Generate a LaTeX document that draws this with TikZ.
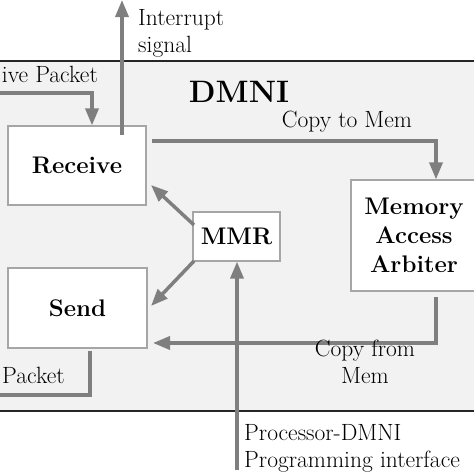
\documentclass[tikz,border=0pt]{standalone}
\usetikzlibrary{arrows.meta}
\definecolor{bgfill}{HTML}{F2F2F2}
\definecolor{arrowgray}{HTML}{7F7F7F}
\definecolor{boxline}{HTML}{A6A6A6}
\tikzset{
  blockbox/.style={draw=boxline, line width=1.2pt, fill=white, inner sep=0pt, font=\fontsize{24}{29}\selectfont\bfseries, align=center},
  flow/.style={draw=arrowgray, line width=3.5pt, -{Triangle[width=13pt,length=17pt]}},
  flowplain/.style={draw=arrowgray, line width=3.5pt},
  lbl/.style={font=\fontsize{23.5}{26.5}\selectfont, inner sep=0pt, text=black},
}
\begin{document}
\begin{tikzpicture}[x=1pt,y=-1pt]
\clip (0,0) rectangle (474,474);
% DMNI background
\fill[bgfill] (0,61) rectangle (474,411);
\draw[black!85, line width=1.3pt] (0,61) -- (474,61);
\draw[black!85, line width=1.3pt] (0,411) -- (474,411);
\node[font=\fontsize{31}{36}\selectfont\bfseries, inner sep=0pt] (dmni) at (239,92) {DMNI};

% blocks
\node[blockbox, minimum width=138pt, minimum height=79pt] (rec) at (77,165.5) {Receive};
\node[blockbox, minimum width=139pt, minimum height=80pt] (send) at (77.5,308) {Send};
\node[blockbox, minimum width=87pt, minimum height=49pt] (mmr) at (236.5,236.5) {MMR};
\node[blockbox, minimum width=126pt, minimum height=111pt, text width=126pt] (maa) at (414,235.5) {Memory\\Access\\Arbiter};

% coordinates
\coordinate (rpin) at (-10,93);
\coordinate (rpc) at (92,93);
\coordinate (intsrc) at (122,135);
\coordinate (inttop) at (122,0);
\coordinate (ctm1) at (152,141);
\coordinate (ctm2) at (436,141);
\coordinate (cfm0) at (436,297);
\coordinate (cfm1) at (436,343);
\coordinate (cfmend) at (153,343);
\coordinate (sp0) at (90,351);
\coordinate (sp1) at (90,395);
\coordinate (spout) at (-10,395);
\coordinate (procin) at (237,470);
\coordinate (mmrul) at (194,225);
\coordinate (mmrll) at (194,261);
\coordinate (rtip) at (151,185);
\coordinate (stip) at (151,306);

% connectors
\draw[flow] (rpin) -- (rpc) -- (rpc |- rec.north);
\draw[flow] (intsrc) -- (inttop);
\draw[flow] (ctm1) -- (ctm2) -- (ctm2 |- maa.north);
\draw[flow] (cfm0) -- (cfm1) -- (cfmend);
\draw[flowplain] (sp0) -- (sp1) -- (spout);
\draw[flow] (procin) -- (procin |- mmr.south);
\draw[flow] (mmrul) -- (rtip);
\draw[flow] (mmrll) -- (stip);

% labels
\node[lbl, anchor=base east] (rplbl) at (98,82) {ive Packet};
\node[lbl, anchor=base west, align=left] (intlbl) at (138,52) {Interrupt\\signal};
\node[lbl, anchor=base] (ctmlbl) at (347,127) {Copy to Mem};
\node[lbl, anchor=base, align=center] (cfmlbl) at (365,383) {Copy from\\Mem};
\node[lbl, anchor=base west] (splbl) at (2,383) {Packet};
\node[lbl, anchor=base west, align=left] (proclbl) at (244,467) {Processor-DMNI\\Programming interface};
\end{tikzpicture}
\end{document}
